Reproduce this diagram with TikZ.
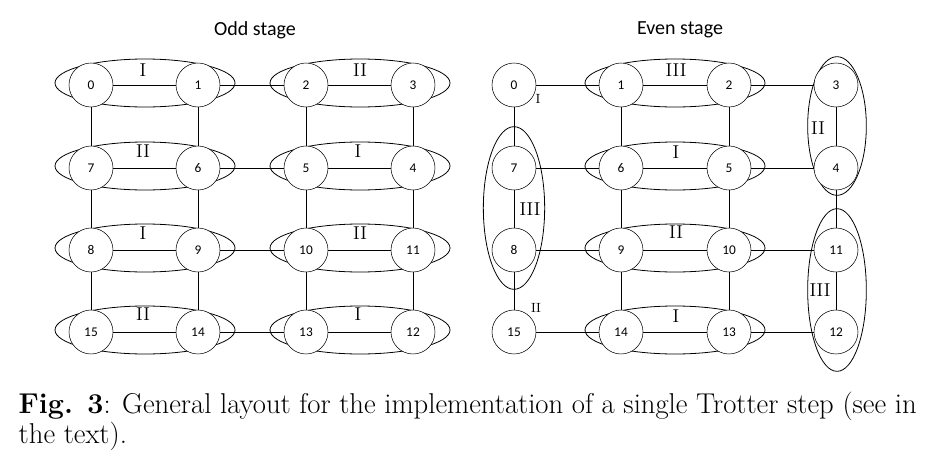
\documentclass[tikz,border=0pt]{standalone}
\usepackage{fontspec}
\newfontfamily\sansf{Carlito}
\begin{document}
\begin{tikzpicture}[x=0.75pt,y=-0.75pt,
 q/.style={circle,draw,minimum size=33pt,inner sep=0pt,font=\sansf\fontsize{10}{10}\selectfont,fill=white},
 grp/.style={draw,line width=0.6pt},
 lab/.style={font=\fontsize{14}{14}\selectfont},
 slab/.style={font=\fontsize{10}{10}\selectfont},
 ttl/.style={font=\sansf\fontsize{15}{15}\selectfont}]
\useasboundingbox (0,0) rectangle (928,464);
\node[ttl] (t1) at (255,30) {Odd stage};
\node[ttl] (t2) at (680,30) {Even stage};
% ellipses left
\foreach \y in {83,166,248,330}{
 \draw[grp] (145,\y) ellipse [x radius=67.5pt, y radius=18pt];
 \draw[grp] (360,\y) ellipse [x radius=67.5pt, y radius=18pt];}
% ellipses right
\foreach \y in {83,166,248,330}{\draw[grp] (675,\y) ellipse [x radius=67.5pt, y radius=18pt];}
\draw[grp] (837,126) ellipse [x radius=22pt, y radius=52pt];
\draw[grp] (514,208) ellipse [x radius=23pt, y radius=61pt];
\draw[grp] (837,290) ellipse [x radius=22pt, y radius=61pt];
% nodes
\foreach \n/\x/\y in {0/91/85,1/198/85,2/306/85,3/413/85,7/91/168,6/198/168,5/306/168,4/413/168,8/91/250,9/198/250,10/306/250,11/413/250,15/91/332,14/198/332,13/306/332,12/413/332}
 \node[q] (L\n) at (\x,\y) {\n};
\foreach \n/\x/\y in {0/514/85,1/621/85,2/729/85,3/836/85,7/514/168,6/621/168,5/729/168,4/836/168,8/514/250,9/621/250,10/729/250,11/836/250,15/514/332,14/621/332,13/729/332,12/836/332}
 \node[q] (R\n) at (\x,\y) {\n};
\foreach \s in {L,R}{
 \foreach \a/\b in {0/1,1/2,2/3,7/6,6/5,5/4,8/9,9/10,10/11,15/14,14/13,13/12,0/7,7/8,8/15,1/6,6/9,9/14,2/5,5/10,10/13,3/4,4/11,11/12}
  \draw (\s\a) -- (\s\b);}
% labels
\node[lab] (a1) at (143,70) {I};
\node[lab] (a2) at (360,70) {II};
\node[lab] (a3) at (143,151) {II};
\node[lab] (a4) at (358,151) {I};
\node[lab] (a5) at (143,233) {I};
\node[lab] (a6) at (360,233) {II};
\node[lab] (a7) at (143,314) {II};
\node[lab] (a8) at (358,314) {I};
\node[lab] (b1) at (676,70) {III};
\node[lab] (b2) at (676,152) {I};
\node[lab] (b3) at (676,232) {II};
\node[lab] (b4) at (676,316) {I};
\node[lab] (b5) at (818,128) {II};
\node[lab] (b6) at (530,209) {III};
\node[lab] (b7) at (820,290) {III};
\node[slab] (s1) at (538,99) {I};
\node[slab] (s2) at (536,308) {II};
\node[anchor=west,font=\fontsize{21.5}{26}\selectfont] (c1) at (14,406) {\textbf{Fig. 3}: General layout for the implementation of a single Trotter step (see in};
\node[anchor=west,font=\fontsize{21.5}{26}\selectfont] (c2) at (14,436) {the text).};
\end{tikzpicture}
\end{document}
